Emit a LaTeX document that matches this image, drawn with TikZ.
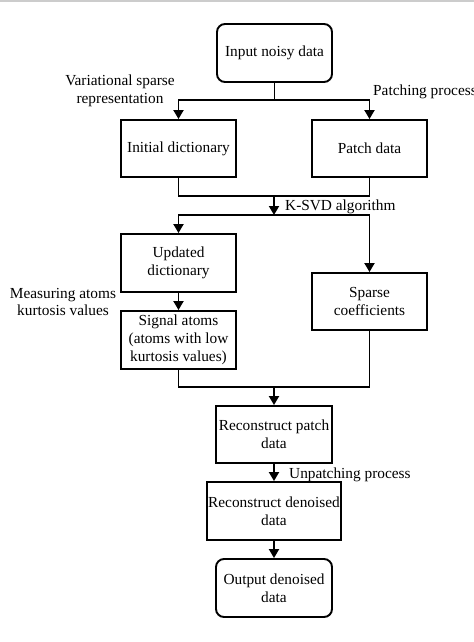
\documentclass[tikz,border=0pt]{standalone}
\usepackage{fontspec}
\setmainfont{Liberation Serif}
\usetikzlibrary{arrows.meta}
\begin{document}
\begin{tikzpicture}[x=1bp,y=-1bp,
  font=\fontsize{15.4}{18}\selectfont,
  box/.style={draw, line width=1.9bp, minimum width=115bp, minimum height=57bp, align=center, inner sep=1bp},
  rbox/.style={box, rounded corners=8bp},
  ln/.style={line width=1.9bp},
  arr/.style={ln, -{Triangle[length=9bp,width=10bp]}},
  lab/.style={align=center, inner sep=0pt}]
\useasboundingbox (0,0) rectangle (474,642);
\fill[black!20] (0,0) rectangle (474,2.5);
\node[rbox, minimum height=58bp] (inp) at (274.5,53) {Input noisy data};
\node[box] (init) at (178.5,148.5) {Initial dictionary};
\node[box] (patch) at (369.5,148.5) {Patch data};
\node[box, minimum height=58bp] (upd) at (178.5,263) {Updated\\dictionary};
\node[box] (sparse) at (369.5,301.5) {Sparse\\coefficients};
\node[box, minimum height=58bp] (sig) at (178.5,340) {Signal atoms\\(atoms with low\\kurtosis values)};
\node[box, minimum width=116bp] (rp) at (274,434.5) {Reconstruct patch\\data};
\node[box, minimum width=134bp, minimum height=58bp] (rd) at (274,511) {Reconstruct denoised\\data};
\node[rbox, minimum width=116bp, minimum height=58bp] (out) at (274,588) {Output denoised\\data};
\coordinate (b1) at (274.5,100);
\coordinate (m1) at (274,196);
\coordinate (b2) at (274,215);
\coordinate (m2) at (274,387);
\draw[ln] (inp.south) -- (b1);
\draw[arr] (b1) -| (init.north);
\draw[arr] (b1) -| (patch.north);
\draw[ln] (init.south) |- (m1) -| (patch.south);
\draw[arr] (m1) -- (b2);
\draw[arr] (b2) -| (upd.north);
\draw[arr] (b2) -| (sparse.north);
\draw[arr] (upd.south) -- (sig.north);
\draw[ln] (sig.south) |- (m2) -| (sparse.south);
\draw[arr] (m2) -- (rp.north);
\draw[arr] (rp.south) -- (rd.north);
\draw[arr] (rd.south) -- (out.north);
\node[lab] (l1) at (120,91) {Variational sparse\\representation};
\node[lab, anchor=west] (l2) at (373,92) {Patching process};
\node[lab, anchor=west] (l3) at (285,207) {K-SVD algorithm};
\node[lab] (l4) at (63,302) {Measuring atoms\\kurtosis values};
\node[lab, anchor=west] (l5) at (289,475) {Unpatching process};
\end{tikzpicture}
\end{document}
